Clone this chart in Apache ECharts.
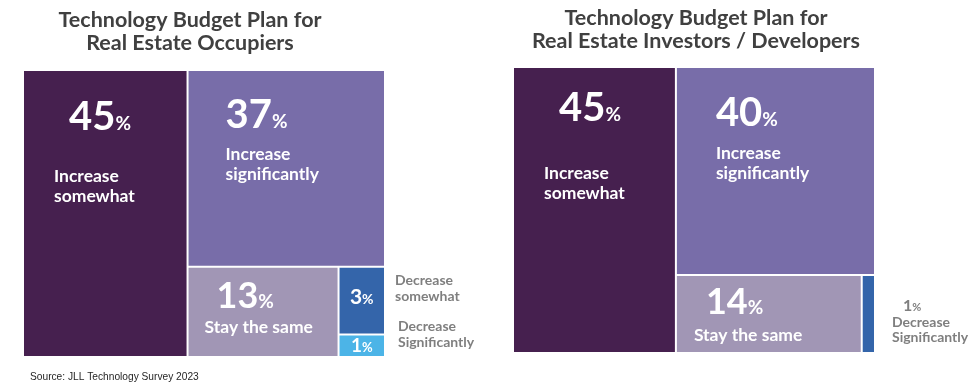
<!DOCTYPE html>
<html><head><meta charset="utf-8">
<script src="https://cdn.jsdelivr.net/npm/echarts@6/dist/echarts.min.js"></script>
<style>html,body{margin:0;padding:0;background:#fff}#c{width:978px;height:392px}</style>
</head><body><div id="c"></div>
<script>
// ---- data ----
const occTitle = 'Technology Budget Plan for\nReal Estate Occupiers';
const invTitle = 'Technology Budget Plan for\nReal Estate Investors / Developers';
const occCategories = ['Increase somewhat', 'Increase significantly', 'Stay the same', 'Decrease somewhat', 'Decrease Significantly'];
const occValues = [45, 37, 13, 3, 1];
const occColors = ['#46204F', '#786DA9', '#A196B5', '#3465AA', '#4CB4E7'];
const invCategories = ['Increase somewhat', 'Increase significantly', 'Stay the same', 'Decrease Significantly'];
const invValues = [45, 40, 14, 1];
const invColors = ['#46204F', '#786DA9', '#A196B5', '#3465AA'];
const sourceText = 'Source: JLL Technology Survey 2023';

// ---- label layout (positions / sizes) ----
const occLabelLayout = [
  {kind: 'big', dx: 30, dy: 23, pad: 15, gap: 26},
  {kind: 'big', dx: 37, dy: 21, pad: 0, gap: 6},
  {kind: 'mid', dx: 16, dy: 9, pad: 12, gap: 1},
  {kind: 'small', dy: 17},
  {kind: 'tiny', dy: 1.5}
];
const invLabelLayout = [
  {kind: 'big', dx: 30, dy: 17, pad: 15, gap: 32},
  {kind: 'big', dx: 39, dy: 22, pad: 0, gap: 7},
  {kind: 'mid', dx: 17, dy: 6, pad: 12, gap: 3},
  {kind: 'outside'}
];

const F = 'Lato';
const GRAY = '#7F7F7F';
const K = 0.645; // baseline shift factor per px of font-size difference

function makeLabel(name, val, L) {
  if (L.kind === 'outside') return {show: false};
  if (L.kind === 'small' || L.kind === 'tiny') {
    const nf = L.kind === 'small' ? 21 : 19, pf = L.kind === 'small' ? 14 : 13;
    const nl = L.kind === 'small' ? 25 : 18;
    return {
      show: true, position: ['50%', L.dy], align: 'center', padding: 0, overflow: 'none',
      formatter: '{n|' + val + '}{p|%}',
      rich: {
        n: {fontSize: nf, lineHeight: nl, fontWeight: 'bold', fontFamily: F, color: '#fff'},
        p: {fontSize: pf, lineHeight: nl, padding: [K * (nf - pf), 0, 0, 0], fontWeight: 'bold', fontFamily: F, color: '#fff'}
      }
    };
  }
  const big = L.kind === 'big';
  const nf = big ? 40 : 36, nl = big ? 46 : 40, pf = 19, tl = 20;
  let fmt = '{n|' + val + '}{p|%}';
  if (L.gap > 0) fmt += '\n{g| }';
  fmt += '\n{t|' + (big ? name.replace(' ', '\n') : name) + '}';
  return {
    show: true, position: [L.dx, L.dy], padding: 0, align: 'left', overflow: 'none',
    formatter: fmt,
    rich: {
      n: {fontSize: nf, lineHeight: nl, padding: [0, 0, 0, L.pad], fontWeight: 'bold', fontFamily: F, color: '#fff'},
      p: {fontSize: pf, lineHeight: nl, padding: [K * (nf - pf), 0, 0, 0], fontWeight: 'bold', fontFamily: F, color: '#fff'},
      g: {fontSize: 1, lineHeight: L.gap},
      t: {fontSize: 17.5, lineHeight: tl, fontWeight: 'bold', fontFamily: F, color: '#fff'}
    }
  };
}

function buildSeries(cats, vals, colors, layouts, box) {
  return {
    type: 'treemap',
    left: box.left, top: box.top, width: box.width, height: box.height,
    roam: false, nodeClick: false, breadcrumb: {show: false},
    squareRatio: 1, sort: 'desc', silent: true, animation: false,
    itemStyle: {gapWidth: 2, borderWidth: 0, borderColor: '#fff'},
    levels: [{itemStyle: {gapWidth: 2, borderWidth: 0}}, {itemStyle: {borderWidth: 0}}],
    label: {show: true, padding: 0, color: '#fff', fontFamily: F, fontWeight: 'bold'},
    upperLabel: {show: false},
    data: cats.map((c, i) => ({
      name: c, value: vals[i],
      itemStyle: {color: colors[i]},
      label: makeLabel(c, vals[i], layouts[i])
    }))
  };
}

const chart = echarts.init(document.getElementById('c'), null, {renderer: 'canvas'});

const graphics = [
  {type: 'text', x: 190, y: 9, style: {text: occTitle, font: 'bold 21.5px Lato', lineHeight: 23, fill: '#404040', align: 'center', verticalAlign: 'top'}},
  {type: 'text', x: 696, y: 7, style: {text: invTitle, font: 'bold 21.5px Lato', lineHeight: 23, fill: '#404040', align: 'center', verticalAlign: 'top'}},
  {type: 'text', x: 30, y: 372, style: {text: sourceText, font: '10.2px "Liberation Sans"', fill: '#262626', align: 'left', verticalAlign: 'top'}},
  {type: 'text', x: 395, y: 272, style: {text: occCategories[3].replace(' ', '\n'), font: 'bold 14px Lato', lineHeight: 16, fill: GRAY, align: 'left', verticalAlign: 'top'}},
  {type: 'text', x: 398, y: 318, style: {text: occCategories[4].replace(' ', '\n'), font: 'bold 14px Lato', lineHeight: 16, fill: GRAY, align: 'left', verticalAlign: 'top'}},
  {type: 'text', x: 892, y: 297, style: {
    text: '{v|' + invValues[3] + '}{p|%}\n{n|' + invCategories[3].replace(' ', '\n') + '}',
    align: 'left', verticalAlign: 'top',
    rich: {
      v: {fontSize: 16, lineHeight: 18, fontWeight: 'bold', fontFamily: F, fill: GRAY, padding: [0, 0, 0, 11]},
      p: {fontSize: 11, lineHeight: 18, padding: [K * 5, 0, 0, 0], fontWeight: 'bold', fontFamily: F, fill: GRAY},
      n: {fontSize: 14, lineHeight: 15, fontWeight: 'bold', fontFamily: F, fill: GRAY}
    }
  }}
];

chart.setOption({
  animation: false,
  graphic: graphics,
  series: [
    buildSeries(occCategories, occValues, occColors, occLabelLayout, {left: 24, top: 71, width: 360, height: 285}),
    buildSeries(invCategories, invValues, invColors, invLabelLayout, {left: 514, top: 68, width: 360, height: 284})
  ]
});
</script>
</body></html>
